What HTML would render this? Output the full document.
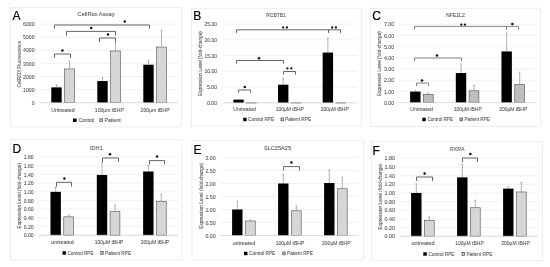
<!DOCTYPE html>
<html lang="en">
<head>
<meta charset="utf-8">
<title>Figure: oxidative stress response in RPE cells</title>
<style>
html,body{margin:0;padding:0;background:#fff;}
body{width:550px;height:267px;overflow:hidden;}
svg{display:block;font-family:'Liberation Sans', 'DejaVu Sans', sans-serif;}
.t{stroke:#595959;stroke-width:0.1px;}
</style>
</head>
<body>
<svg width="550" height="267" viewBox="0 0 550 267">
<defs><filter id="soft" x="0" y="0" width="100%" height="100%" filterUnits="userSpaceOnUse" color-interpolation-filters="sRGB"><feGaussianBlur stdDeviation="0.32"/></filter></defs>
<rect x="0" y="0" width="550" height="267" fill="#ffffff"/>
<g filter="url(#soft)">
<rect x="0" y="0" width="550" height="267" fill="#ffffff"/>
<rect x="10.4" y="7.6" width="171.20" height="119.40" fill="#fff" stroke="#e2e2e2" stroke-width="0.6"/>
<text x="12.6" y="19.7" font-size="12" fill="#000" stroke="#000" stroke-width="0.2">A</text>
<text class="t" x="96.00" y="16.20" font-size="6.2" text-anchor="middle" fill="#595959" textLength="37" lengthAdjust="spacingAndGlyphs">CellRox Assay</text>
<line x1="40" x2="178" y1="102.70" y2="102.70" stroke="#e4e4e4" stroke-width="0.55"/>
<text class="t" x="34.60" y="104.80" font-size="5.6" text-anchor="end" fill="#595959" textLength="2.9" lengthAdjust="spacingAndGlyphs">0</text>
<line x1="40" x2="178" y1="89.60" y2="89.60" stroke="#e4e4e4" stroke-width="0.55"/>
<text class="t" x="34.60" y="91.70" font-size="5.6" text-anchor="end" fill="#595959" textLength="11.6" lengthAdjust="spacingAndGlyphs">1000</text>
<line x1="40" x2="178" y1="76.50" y2="76.50" stroke="#e4e4e4" stroke-width="0.55"/>
<text class="t" x="34.60" y="78.60" font-size="5.6" text-anchor="end" fill="#595959" textLength="11.6" lengthAdjust="spacingAndGlyphs">2000</text>
<line x1="40" x2="178" y1="63.40" y2="63.40" stroke="#e4e4e4" stroke-width="0.55"/>
<text class="t" x="34.60" y="65.50" font-size="5.6" text-anchor="end" fill="#595959" textLength="11.6" lengthAdjust="spacingAndGlyphs">3000</text>
<line x1="40" x2="178" y1="50.30" y2="50.30" stroke="#e4e4e4" stroke-width="0.55"/>
<text class="t" x="34.60" y="52.40" font-size="5.6" text-anchor="end" fill="#595959" textLength="11.6" lengthAdjust="spacingAndGlyphs">4000</text>
<line x1="40" x2="178" y1="37.20" y2="37.20" stroke="#e4e4e4" stroke-width="0.55"/>
<text class="t" x="34.60" y="39.30" font-size="5.6" text-anchor="end" fill="#595959" textLength="11.6" lengthAdjust="spacingAndGlyphs">5000</text>
<line x1="40" x2="178" y1="24.10" y2="24.10" stroke="#e4e4e4" stroke-width="0.55"/>
<text class="t" x="34.60" y="26.20" font-size="5.6" text-anchor="end" fill="#595959" textLength="11.6" lengthAdjust="spacingAndGlyphs">6000</text>
<text class="t" transform="translate(19.4,64.3) rotate(-90)" x="0" y="1.9" font-size="5.6" text-anchor="middle" fill="#595959" textLength="46.5" lengthAdjust="spacingAndGlyphs">CellROX Fluorescence</text>
<rect x="51.30" y="87.37" width="10.4" height="15.33" fill="#000"/>
<path d="M56.50,87.37 V85.02 M55.70,85.02 H57.30" stroke="#707070" stroke-width="0.55" fill="none"/>
<rect x="64.60" y="68.94" width="9.8" height="33.76" fill="#d6d6d6" stroke="#505050" stroke-width="0.6"/>
<path d="M69.50,68.64 V61.04 M68.70,61.04 H70.30" stroke="#707070" stroke-width="0.55" fill="none"/>
<rect x="97.30" y="81.09" width="10.4" height="21.61" fill="#000"/>
<path d="M102.50,81.09 V77.68 M101.70,77.68 H103.30" stroke="#707070" stroke-width="0.55" fill="none"/>
<rect x="110.60" y="50.99" width="9.8" height="51.71" fill="#d6d6d6" stroke="#505050" stroke-width="0.6"/>
<path d="M115.50,50.69 V42.57 M114.70,42.57 H116.30" stroke="#707070" stroke-width="0.55" fill="none"/>
<rect x="143.30" y="64.71" width="10.4" height="37.99" fill="#000"/>
<path d="M148.50,64.71 V60.13 M147.70,60.13 H149.30" stroke="#707070" stroke-width="0.55" fill="none"/>
<rect x="156.60" y="47.06" width="9.8" height="55.64" fill="#d6d6d6" stroke="#505050" stroke-width="0.6"/>
<path d="M161.50,46.76 V30.39 M160.70,30.39 H162.30" stroke="#707070" stroke-width="0.55" fill="none"/>
<line x1="40" x2="178" y1="102.70" y2="102.70" stroke="#cfcfcf" stroke-width="0.6"/>
<text class="t" x="63.00" y="112.00" font-size="5.6" text-anchor="middle" fill="#595959" textLength="23.5" lengthAdjust="spacingAndGlyphs">Untreated</text>
<text class="t" x="109.30" y="112.00" font-size="5.6" text-anchor="middle" fill="#595959" textLength="29" lengthAdjust="spacingAndGlyphs">100µm tBHP</text>
<text class="t" x="155.10" y="112.00" font-size="5.6" text-anchor="middle" fill="#595959" textLength="29" lengthAdjust="spacingAndGlyphs">200µm tBHP</text>
<rect x="73" y="118.55" width="3.60" height="3.45" fill="#000"/>
<text class="t" x="78.40" y="121.80" font-size="5.6" text-anchor="start" fill="#595959" textLength="15.8" lengthAdjust="spacingAndGlyphs">Control</text>
<rect x="99.80" y="118.80" width="2.80" height="2.8" fill="#d6d6d6" stroke="#4a4a4a" stroke-width="0.75"/>
<text class="t" x="104.40" y="121.80" font-size="5.6" text-anchor="start" fill="#595959" textLength="16.4" lengthAdjust="spacingAndGlyphs">Patient</text>
<path d="M54.50,28.60 V25.00 H149.50 V28.60" fill="none" stroke="#404040" stroke-width="0.8" stroke-linejoin="round"/>
<path d="M66.50,35.80 V31.40 H115.50 V35.80" fill="none" stroke="#404040" stroke-width="0.8" stroke-linejoin="round"/>
<path d="M99.50,42.20 V38.00 H115.50 V42.20" fill="none" stroke="#404040" stroke-width="0.8" stroke-linejoin="round"/>
<path d="M54.50,58.00 V54.00 H70.50 V58.00" fill="none" stroke="#404040" stroke-width="0.8" stroke-linejoin="round"/>
<circle cx="124.80" cy="21.50" r="1.25" fill="#111"/>
<circle cx="91.20" cy="28.00" r="1.25" fill="#111"/>
<circle cx="108.00" cy="34.40" r="1.25" fill="#111"/>
<circle cx="62.40" cy="50.50" r="1.25" fill="#111"/>
<rect x="191.4" y="8.2" width="170.00" height="117.80" fill="#fff" stroke="#e2e2e2" stroke-width="0.6"/>
<text x="193.3" y="20.1" font-size="12" fill="#000" stroke="#000" stroke-width="0.2">B</text>
<text class="t" x="276.05" y="16.80" font-size="5.4" text-anchor="middle" fill="#595959" textLength="19.5" lengthAdjust="spacingAndGlyphs">RCBTB1</text>
<line x1="223" x2="357" y1="102.80" y2="102.80" stroke="#e4e4e4" stroke-width="0.55"/>
<text class="t" x="217.00" y="104.90" font-size="5.6" text-anchor="end" fill="#595959" textLength="10.0" lengthAdjust="spacingAndGlyphs">0.00</text>
<line x1="223" x2="357" y1="87.05" y2="87.05" stroke="#e4e4e4" stroke-width="0.55"/>
<text class="t" x="217.00" y="89.15" font-size="5.6" text-anchor="end" fill="#595959" textLength="10.0" lengthAdjust="spacingAndGlyphs">5.00</text>
<line x1="223" x2="357" y1="71.30" y2="71.30" stroke="#e4e4e4" stroke-width="0.55"/>
<text class="t" x="217.00" y="73.40" font-size="5.6" text-anchor="end" fill="#595959" textLength="12.6" lengthAdjust="spacingAndGlyphs">10.00</text>
<line x1="223" x2="357" y1="55.55" y2="55.55" stroke="#e4e4e4" stroke-width="0.55"/>
<text class="t" x="217.00" y="57.65" font-size="5.6" text-anchor="end" fill="#595959" textLength="12.6" lengthAdjust="spacingAndGlyphs">15.00</text>
<line x1="223" x2="357" y1="39.80" y2="39.80" stroke="#e4e4e4" stroke-width="0.55"/>
<text class="t" x="217.00" y="41.90" font-size="5.6" text-anchor="end" fill="#595959" textLength="12.6" lengthAdjust="spacingAndGlyphs">20.00</text>
<line x1="223" x2="357" y1="24.05" y2="24.05" stroke="#e4e4e4" stroke-width="0.55"/>
<text class="t" x="217.00" y="26.15" font-size="5.6" text-anchor="end" fill="#595959" textLength="12.6" lengthAdjust="spacingAndGlyphs">25.00</text>
<text class="t" transform="translate(200.2,63.6) rotate(-90)" x="0" y="1.9" font-size="5.6" text-anchor="middle" fill="#595959" textLength="65" lengthAdjust="spacingAndGlyphs">Expression Level (fold-change)</text>
<rect x="233.33" y="99.65" width="10.4" height="3.15" fill="#000"/>
<path d="M238.53,99.65 V99.27 M237.73,99.27 H239.33" stroke="#707070" stroke-width="0.55" fill="none"/>
<rect x="246.63" y="102.78" width="9.8" height="0.20" fill="#d6d6d6" stroke="#505050" stroke-width="0.6"/>
<path d="M251.53,102.48 V102.42 M250.73,102.42 H252.33" stroke="#707070" stroke-width="0.55" fill="none"/>
<rect x="278.00" y="84.69" width="10.4" height="18.11" fill="#000"/>
<path d="M283.20,84.69 V78.07 M282.40,78.07 H284.00" stroke="#707070" stroke-width="0.55" fill="none"/>
<rect x="291.30" y="102.78" width="9.8" height="0.20" fill="#d6d6d6" stroke="#505050" stroke-width="0.6"/>
<path d="M296.20,102.48 V102.42 M295.40,102.42 H297.00" stroke="#707070" stroke-width="0.55" fill="none"/>
<rect x="322.67" y="52.56" width="10.4" height="50.24" fill="#000"/>
<path d="M327.87,52.56 V38.07 M327.07,38.07 H328.67" stroke="#707070" stroke-width="0.55" fill="none"/>
<rect x="335.97" y="102.78" width="9.8" height="0.20" fill="#d6d6d6" stroke="#505050" stroke-width="0.6"/>
<path d="M340.87,102.48 V102.42 M340.07,102.42 H341.67" stroke="#707070" stroke-width="0.55" fill="none"/>
<line x1="223" x2="357" y1="102.80" y2="102.80" stroke="#cfcfcf" stroke-width="0.6"/>
<text class="t" x="244.60" y="111.00" font-size="5.6" text-anchor="middle" fill="#595959" textLength="22.5" lengthAdjust="spacingAndGlyphs">Untreated</text>
<text class="t" x="289.80" y="111.00" font-size="5.6" text-anchor="middle" fill="#595959" textLength="28" lengthAdjust="spacingAndGlyphs">100µM tBHP</text>
<text class="t" x="334.70" y="111.00" font-size="5.6" text-anchor="middle" fill="#595959" textLength="28" lengthAdjust="spacingAndGlyphs">200µM tBHP</text>
<rect x="243.2" y="117.75" width="3.40" height="3.45" fill="#000"/>
<text class="t" x="248.00" y="121.00" font-size="5.6" text-anchor="start" fill="#595959" textLength="26" lengthAdjust="spacingAndGlyphs">Control RPE</text>
<rect x="281.00" y="118.00" width="2.60" height="2.8" fill="#d6d6d6" stroke="#4a4a4a" stroke-width="0.75"/>
<text class="t" x="285.00" y="121.00" font-size="5.6" text-anchor="start" fill="#595959" textLength="26.2" lengthAdjust="spacingAndGlyphs">Patient RPE</text>
<path d="M236.50,33.00 V29.80 H340.50 V33.00 M328.50,29.80 V33.00" fill="none" stroke="#404040" stroke-width="0.8" stroke-linejoin="round"/>
<path d="M236.50,63.70 V60.50 H283.50 V63.70" fill="none" stroke="#404040" stroke-width="0.8" stroke-linejoin="round"/>
<path d="M283.50,74.60 V71.50 H295.50 V74.60" fill="none" stroke="#404040" stroke-width="0.8" stroke-linejoin="round"/>
<path d="M238.50,92.80 V90.00 H250.50 V92.80" fill="none" stroke="#404040" stroke-width="0.8" stroke-linejoin="round"/>
<circle cx="283.20" cy="27.50" r="1.15" fill="#111"/>
<circle cx="286.90" cy="27.50" r="1.15" fill="#111"/>
<circle cx="332.20" cy="27.50" r="1.15" fill="#111"/>
<circle cx="335.90" cy="27.50" r="1.15" fill="#111"/>
<circle cx="259.00" cy="58.30" r="1.25" fill="#111"/>
<circle cx="287.40" cy="68.40" r="1.15" fill="#111"/>
<circle cx="291.30" cy="68.40" r="1.15" fill="#111"/>
<circle cx="244.80" cy="87.00" r="1.25" fill="#111"/>
<rect x="370.2" y="8.2" width="170.20" height="118.10" fill="#fff" stroke="#e2e2e2" stroke-width="0.6"/>
<text x="372.2" y="20.1" font-size="12" fill="#000" stroke="#000" stroke-width="0.2">C</text>
<text class="t" x="455.40" y="16.80" font-size="5.2" text-anchor="middle" fill="#595959" textLength="18.8" lengthAdjust="spacingAndGlyphs">NFE2L2</text>
<line x1="399" x2="536" y1="102.60" y2="102.60" stroke="#e4e4e4" stroke-width="0.55"/>
<text class="t" x="394.20" y="104.70" font-size="5.6" text-anchor="end" fill="#595959" textLength="10.3" lengthAdjust="spacingAndGlyphs">0.00</text>
<line x1="399" x2="536" y1="91.40" y2="91.40" stroke="#e4e4e4" stroke-width="0.55"/>
<text class="t" x="394.20" y="93.50" font-size="5.6" text-anchor="end" fill="#595959" textLength="10.3" lengthAdjust="spacingAndGlyphs">1.00</text>
<line x1="399" x2="536" y1="80.20" y2="80.20" stroke="#e4e4e4" stroke-width="0.55"/>
<text class="t" x="394.20" y="82.30" font-size="5.6" text-anchor="end" fill="#595959" textLength="10.3" lengthAdjust="spacingAndGlyphs">2.00</text>
<line x1="399" x2="536" y1="69.00" y2="69.00" stroke="#e4e4e4" stroke-width="0.55"/>
<text class="t" x="394.20" y="71.10" font-size="5.6" text-anchor="end" fill="#595959" textLength="10.3" lengthAdjust="spacingAndGlyphs">3.00</text>
<line x1="399" x2="536" y1="57.80" y2="57.80" stroke="#e4e4e4" stroke-width="0.55"/>
<text class="t" x="394.20" y="59.90" font-size="5.6" text-anchor="end" fill="#595959" textLength="10.3" lengthAdjust="spacingAndGlyphs">4.00</text>
<line x1="399" x2="536" y1="46.60" y2="46.60" stroke="#e4e4e4" stroke-width="0.55"/>
<text class="t" x="394.20" y="48.70" font-size="5.6" text-anchor="end" fill="#595959" textLength="10.3" lengthAdjust="spacingAndGlyphs">5.00</text>
<line x1="399" x2="536" y1="35.40" y2="35.40" stroke="#e4e4e4" stroke-width="0.55"/>
<text class="t" x="394.20" y="37.50" font-size="5.6" text-anchor="end" fill="#595959" textLength="10.3" lengthAdjust="spacingAndGlyphs">6.00</text>
<line x1="399" x2="536" y1="24.20" y2="24.20" stroke="#e4e4e4" stroke-width="0.55"/>
<text class="t" x="394.20" y="26.30" font-size="5.6" text-anchor="end" fill="#595959" textLength="10.3" lengthAdjust="spacingAndGlyphs">7.00</text>
<text class="t" transform="translate(378.6,63.6) rotate(-90)" x="0" y="1.9" font-size="5.6" text-anchor="middle" fill="#595959" textLength="65" lengthAdjust="spacingAndGlyphs">Expression Level (fold-change)</text>
<rect x="410.13" y="91.62" width="10.4" height="10.98" fill="#000"/>
<path d="M415.33,91.62 V90.73 M414.53,90.73 H416.13" stroke="#707070" stroke-width="0.55" fill="none"/>
<rect x="423.43" y="94.28" width="9.8" height="8.32" fill="#bdbdbd" stroke="#505050" stroke-width="0.6"/>
<path d="M428.33,93.98 V93.19 M427.53,93.19 H429.13" stroke="#707070" stroke-width="0.55" fill="none"/>
<rect x="455.80" y="73.03" width="10.4" height="29.57" fill="#000"/>
<path d="M461.00,73.03 V64.07 M460.20,64.07 H461.80" stroke="#707070" stroke-width="0.55" fill="none"/>
<rect x="469.10" y="90.80" width="9.8" height="11.80" fill="#bdbdbd" stroke="#505050" stroke-width="0.6"/>
<path d="M474.00,90.50 V85.46 M473.20,85.46 H474.80" stroke="#707070" stroke-width="0.55" fill="none"/>
<rect x="501.47" y="51.42" width="10.4" height="51.18" fill="#000"/>
<path d="M506.67,51.42 V32.94 M505.87,32.94 H507.47" stroke="#707070" stroke-width="0.55" fill="none"/>
<rect x="514.77" y="84.31" width="9.8" height="18.29" fill="#bdbdbd" stroke="#505050" stroke-width="0.6"/>
<path d="M519.67,84.01 V72.02 M518.87,72.02 H520.47" stroke="#707070" stroke-width="0.55" fill="none"/>
<line x1="399" x2="536" y1="102.60" y2="102.60" stroke="#cfcfcf" stroke-width="0.6"/>
<text class="t" x="421.60" y="111.20" font-size="5.6" text-anchor="middle" fill="#595959" textLength="22.5" lengthAdjust="spacingAndGlyphs">Untreated</text>
<text class="t" x="467.70" y="111.20" font-size="5.6" text-anchor="middle" fill="#595959" textLength="28" lengthAdjust="spacingAndGlyphs">100µM tBHP</text>
<text class="t" x="513.20" y="111.20" font-size="5.6" text-anchor="middle" fill="#595959" textLength="28" lengthAdjust="spacingAndGlyphs">200µM tBHP</text>
<rect x="422.3" y="117.75" width="3.40" height="3.45" fill="#000"/>
<text class="t" x="427.40" y="121.00" font-size="5.6" text-anchor="start" fill="#595959" textLength="25.6" lengthAdjust="spacingAndGlyphs">Control RPE</text>
<rect x="460.00" y="118.00" width="2.60" height="2.8" fill="#bdbdbd" stroke="#4a4a4a" stroke-width="0.75"/>
<text class="t" x="464.40" y="121.00" font-size="5.6" text-anchor="start" fill="#595959" textLength="25.6" lengthAdjust="spacingAndGlyphs">Patient RPE</text>
<path d="M414.50,29.80 V26.40 H518.50 V29.80 M506.50,26.40 V29.80" fill="none" stroke="#666" stroke-width="0.8" stroke-linejoin="round"/>
<path d="M414.50,61.20 V58.00 H461.50 V61.20" fill="none" stroke="#666" stroke-width="0.8" stroke-linejoin="round"/>
<path d="M416.50,86.00 V83.00 H428.50 V86.00" fill="none" stroke="#666" stroke-width="0.8" stroke-linejoin="round"/>
<circle cx="461.30" cy="24.70" r="1.15" fill="#111"/>
<circle cx="464.90" cy="24.70" r="1.15" fill="#111"/>
<circle cx="512.40" cy="24.00" r="1.25" fill="#111"/>
<circle cx="437.00" cy="55.60" r="1.25" fill="#111"/>
<circle cx="422.00" cy="80.60" r="1.25" fill="#111"/>
<rect x="10.4" y="139.6" width="171.60" height="120.40" fill="#fff" stroke="#e2e2e2" stroke-width="0.6"/>
<text x="12.5" y="153.4" font-size="12" fill="#000" stroke="#000" stroke-width="0.2">D</text>
<text class="t" x="96.40" y="149.70" font-size="5.9" text-anchor="middle" fill="#595959" textLength="12.8" lengthAdjust="spacingAndGlyphs">IDH1</text>
<line x1="37.8" x2="178" y1="235.20" y2="235.20" stroke="#e4e4e4" stroke-width="0.55"/>
<text class="t" x="33.70" y="237.30" font-size="5.6" text-anchor="end" fill="#595959" textLength="10.0" lengthAdjust="spacingAndGlyphs">0.00</text>
<line x1="37.8" x2="178" y1="226.53" y2="226.53" stroke="#e4e4e4" stroke-width="0.55"/>
<text class="t" x="33.70" y="228.63" font-size="5.6" text-anchor="end" fill="#595959" textLength="10.0" lengthAdjust="spacingAndGlyphs">0.20</text>
<line x1="37.8" x2="178" y1="217.86" y2="217.86" stroke="#e4e4e4" stroke-width="0.55"/>
<text class="t" x="33.70" y="219.96" font-size="5.6" text-anchor="end" fill="#595959" textLength="10.0" lengthAdjust="spacingAndGlyphs">0.40</text>
<line x1="37.8" x2="178" y1="209.19" y2="209.19" stroke="#e4e4e4" stroke-width="0.55"/>
<text class="t" x="33.70" y="211.29" font-size="5.6" text-anchor="end" fill="#595959" textLength="10.0" lengthAdjust="spacingAndGlyphs">0.60</text>
<line x1="37.8" x2="178" y1="200.52" y2="200.52" stroke="#e4e4e4" stroke-width="0.55"/>
<text class="t" x="33.70" y="202.62" font-size="5.6" text-anchor="end" fill="#595959" textLength="10.0" lengthAdjust="spacingAndGlyphs">0.80</text>
<line x1="37.8" x2="178" y1="191.85" y2="191.85" stroke="#e4e4e4" stroke-width="0.55"/>
<text class="t" x="33.70" y="193.95" font-size="5.6" text-anchor="end" fill="#595959" textLength="10.0" lengthAdjust="spacingAndGlyphs">1.00</text>
<line x1="37.8" x2="178" y1="183.18" y2="183.18" stroke="#e4e4e4" stroke-width="0.55"/>
<text class="t" x="33.70" y="185.28" font-size="5.6" text-anchor="end" fill="#595959" textLength="10.0" lengthAdjust="spacingAndGlyphs">1.20</text>
<line x1="37.8" x2="178" y1="174.51" y2="174.51" stroke="#e4e4e4" stroke-width="0.55"/>
<text class="t" x="33.70" y="176.61" font-size="5.6" text-anchor="end" fill="#595959" textLength="10.0" lengthAdjust="spacingAndGlyphs">1.40</text>
<line x1="37.8" x2="178" y1="165.84" y2="165.84" stroke="#e4e4e4" stroke-width="0.55"/>
<text class="t" x="33.70" y="167.94" font-size="5.6" text-anchor="end" fill="#595959" textLength="10.0" lengthAdjust="spacingAndGlyphs">1.60</text>
<line x1="37.8" x2="178" y1="157.17" y2="157.17" stroke="#e4e4e4" stroke-width="0.55"/>
<text class="t" x="33.70" y="159.27" font-size="5.6" text-anchor="end" fill="#595959" textLength="10.0" lengthAdjust="spacingAndGlyphs">1.80</text>
<text class="t" transform="translate(19.3,195.7) rotate(-90)" x="0" y="1.9" font-size="5.6" text-anchor="middle" fill="#595959" textLength="65.6" lengthAdjust="spacingAndGlyphs">Expression Level (fold-change)</text>
<rect x="50.47" y="191.85" width="10.4" height="43.35" fill="#000"/>
<path d="M55.67,191.85 V187.08 M54.87,187.08 H56.47" stroke="#707070" stroke-width="0.55" fill="none"/>
<rect x="63.77" y="216.86" width="9.8" height="18.34" fill="#d6d6d6" stroke="#505050" stroke-width="0.6"/>
<path d="M68.67,216.56 V214.83 M67.87,214.83 H69.47" stroke="#707070" stroke-width="0.55" fill="none"/>
<rect x="96.80" y="174.94" width="10.4" height="60.26" fill="#000"/>
<path d="M102.00,174.94 V162.37 M101.20,162.37 H102.80" stroke="#707070" stroke-width="0.55" fill="none"/>
<rect x="110.10" y="211.66" width="9.8" height="23.54" fill="#d6d6d6" stroke="#505050" stroke-width="0.6"/>
<path d="M115.00,211.36 V204.85 M114.20,204.85 H115.80" stroke="#707070" stroke-width="0.55" fill="none"/>
<rect x="143.13" y="171.48" width="10.4" height="63.72" fill="#000"/>
<path d="M148.33,171.48 V165.41 M147.53,165.41 H149.13" stroke="#707070" stroke-width="0.55" fill="none"/>
<rect x="156.43" y="201.25" width="9.8" height="33.95" fill="#d6d6d6" stroke="#505050" stroke-width="0.6"/>
<path d="M161.33,200.95 V194.45 M160.53,194.45 H162.13" stroke="#707070" stroke-width="0.55" fill="none"/>
<line x1="39" x2="178" y1="235.20" y2="235.20" stroke="#cfcfcf" stroke-width="0.6"/>
<text class="t" x="62.50" y="244.30" font-size="5.6" text-anchor="middle" fill="#595959" textLength="22.5" lengthAdjust="spacingAndGlyphs">untreated</text>
<text class="t" x="108.90" y="244.30" font-size="5.6" text-anchor="middle" fill="#595959" textLength="28.5" lengthAdjust="spacingAndGlyphs">100µM tBHP</text>
<text class="t" x="154.90" y="244.30" font-size="5.6" text-anchor="middle" fill="#595959" textLength="28.5" lengthAdjust="spacingAndGlyphs">200µM tBHP</text>
<rect x="62.5" y="251.25" width="3.40" height="3.45" fill="#000"/>
<text class="t" x="67.60" y="254.50" font-size="5.6" text-anchor="start" fill="#595959" textLength="26.0" lengthAdjust="spacingAndGlyphs">Control RPE</text>
<rect x="100.80" y="251.50" width="2.40" height="2.8" fill="#d6d6d6" stroke="#4a4a4a" stroke-width="0.75"/>
<text class="t" x="105.00" y="254.50" font-size="5.6" text-anchor="start" fill="#595959" textLength="26.2" lengthAdjust="spacingAndGlyphs">Patient RPE</text>
<path d="M56.50,186.60 V182.30 H71.50 V186.60" fill="none" stroke="#404040" stroke-width="0.8" stroke-linejoin="round"/>
<path d="M102.50,162.00 V158.00 H118.50 V162.00" fill="none" stroke="#404040" stroke-width="0.8" stroke-linejoin="round"/>
<path d="M149.50,164.40 V160.60 H164.50 V164.40" fill="none" stroke="#404040" stroke-width="0.8" stroke-linejoin="round"/>
<circle cx="64.40" cy="178.50" r="1.25" fill="#111"/>
<circle cx="110.00" cy="154.30" r="1.25" fill="#111"/>
<circle cx="157.00" cy="156.60" r="1.25" fill="#111"/>
<rect x="192.0" y="140.3" width="171.40" height="119.70" fill="#fff" stroke="#e2e2e2" stroke-width="0.6"/>
<text x="193.4" y="153.7" font-size="12" fill="#000" stroke="#000" stroke-width="0.2">E</text>
<text class="t" x="277.50" y="150.20" font-size="6.1" text-anchor="middle" fill="#595959" textLength="27" lengthAdjust="spacingAndGlyphs">SLC25A25</text>
<line x1="220.6" x2="358.6" y1="235.50" y2="235.50" stroke="#e4e4e4" stroke-width="0.55"/>
<text class="t" x="215.60" y="237.60" font-size="5.6" text-anchor="end" fill="#595959" textLength="10.2" lengthAdjust="spacingAndGlyphs">0.00</text>
<line x1="220.6" x2="358.6" y1="222.50" y2="222.50" stroke="#e4e4e4" stroke-width="0.55"/>
<text class="t" x="215.60" y="224.60" font-size="5.6" text-anchor="end" fill="#595959" textLength="10.2" lengthAdjust="spacingAndGlyphs">0.50</text>
<line x1="220.6" x2="358.6" y1="209.50" y2="209.50" stroke="#e4e4e4" stroke-width="0.55"/>
<text class="t" x="215.60" y="211.60" font-size="5.6" text-anchor="end" fill="#595959" textLength="10.2" lengthAdjust="spacingAndGlyphs">1.00</text>
<line x1="220.6" x2="358.6" y1="196.50" y2="196.50" stroke="#e4e4e4" stroke-width="0.55"/>
<text class="t" x="215.60" y="198.60" font-size="5.6" text-anchor="end" fill="#595959" textLength="10.2" lengthAdjust="spacingAndGlyphs">1.50</text>
<line x1="220.6" x2="358.6" y1="183.50" y2="183.50" stroke="#e4e4e4" stroke-width="0.55"/>
<text class="t" x="215.60" y="185.60" font-size="5.6" text-anchor="end" fill="#595959" textLength="10.2" lengthAdjust="spacingAndGlyphs">2.00</text>
<line x1="220.6" x2="358.6" y1="170.50" y2="170.50" stroke="#e4e4e4" stroke-width="0.55"/>
<text class="t" x="215.60" y="172.60" font-size="5.6" text-anchor="end" fill="#595959" textLength="10.2" lengthAdjust="spacingAndGlyphs">2.50</text>
<line x1="220.6" x2="358.6" y1="157.50" y2="157.50" stroke="#e4e4e4" stroke-width="0.55"/>
<text class="t" x="215.60" y="159.60" font-size="5.6" text-anchor="end" fill="#595959" textLength="10.2" lengthAdjust="spacingAndGlyphs">3.00</text>
<text class="t" transform="translate(200.9,195.8) rotate(-90)" x="0" y="1.9" font-size="5.6" text-anchor="middle" fill="#595959" textLength="66" lengthAdjust="spacingAndGlyphs">Expression Level (fold-change)</text>
<rect x="232.10" y="209.50" width="10.4" height="26.00" fill="#000"/>
<path d="M237.30,209.50 V201.18 M236.50,201.18 H238.10" stroke="#707070" stroke-width="0.55" fill="none"/>
<rect x="245.40" y="220.98" width="9.8" height="14.52" fill="#d6d6d6" stroke="#505050" stroke-width="0.6"/>
<path d="M250.30,220.68 V219.90 M249.50,219.90 H251.10" stroke="#707070" stroke-width="0.55" fill="none"/>
<rect x="278.10" y="183.50" width="10.4" height="52.00" fill="#000"/>
<path d="M283.30,183.50 V174.14 M282.50,174.14 H284.10" stroke="#707070" stroke-width="0.55" fill="none"/>
<rect x="291.40" y="210.84" width="9.8" height="24.66" fill="#d6d6d6" stroke="#505050" stroke-width="0.6"/>
<path d="M296.30,210.54 V205.86 M295.50,205.86 H297.10" stroke="#707070" stroke-width="0.55" fill="none"/>
<rect x="324.10" y="182.98" width="10.4" height="52.52" fill="#000"/>
<path d="M329.30,182.98 V169.98 M328.50,169.98 H330.10" stroke="#707070" stroke-width="0.55" fill="none"/>
<rect x="337.40" y="188.74" width="9.8" height="46.76" fill="#d6d6d6" stroke="#505050" stroke-width="0.6"/>
<path d="M342.30,188.44 V177.26 M341.50,177.26 H343.10" stroke="#707070" stroke-width="0.55" fill="none"/>
<line x1="220.6" x2="358.6" y1="235.50" y2="235.50" stroke="#cfcfcf" stroke-width="0.6"/>
<text class="t" x="243.90" y="244.70" font-size="5.6" text-anchor="middle" fill="#595959" textLength="22.5" lengthAdjust="spacingAndGlyphs">untreated</text>
<text class="t" x="290.00" y="244.70" font-size="5.6" text-anchor="middle" fill="#595959" textLength="28.5" lengthAdjust="spacingAndGlyphs">100µM tBHP</text>
<text class="t" x="336.30" y="244.70" font-size="5.6" text-anchor="middle" fill="#595959" textLength="28.5" lengthAdjust="spacingAndGlyphs">200µM tBHP</text>
<rect x="244" y="251.75" width="3.50" height="3.45" fill="#000"/>
<text class="t" x="249.00" y="255.00" font-size="5.6" text-anchor="start" fill="#595959" textLength="26.2" lengthAdjust="spacingAndGlyphs">Control RPE</text>
<rect x="282.80" y="252.00" width="2.40" height="2.8" fill="#d6d6d6" stroke="#4a4a4a" stroke-width="0.75"/>
<text class="t" x="287.00" y="255.00" font-size="5.6" text-anchor="start" fill="#595959" textLength="26" lengthAdjust="spacingAndGlyphs">Patient RPE</text>
<path d="M283.50,170.60 V166.60 H299.50 V170.60" fill="none" stroke="#404040" stroke-width="0.8" stroke-linejoin="round"/>
<circle cx="291.40" cy="162.50" r="1.25" fill="#111"/>
<rect x="371.4" y="141.2" width="171.20" height="119.40" fill="#fff" stroke="#e2e2e2" stroke-width="0.6"/>
<text x="372.6" y="154.7" font-size="12" fill="#000" stroke="#000" stroke-width="0.2">F</text>
<text class="t" x="457.25" y="150.70" font-size="5.9" text-anchor="middle" fill="#595959" textLength="14.5" lengthAdjust="spacingAndGlyphs">RXRA</text>
<line x1="400" x2="538" y1="236.20" y2="236.20" stroke="#e4e4e4" stroke-width="0.55"/>
<text class="t" x="395.00" y="238.30" font-size="5.6" text-anchor="end" fill="#595959" textLength="10.4" lengthAdjust="spacingAndGlyphs">0.00</text>
<line x1="400" x2="538" y1="227.55" y2="227.55" stroke="#e4e4e4" stroke-width="0.55"/>
<text class="t" x="395.00" y="229.65" font-size="5.6" text-anchor="end" fill="#595959" textLength="10.4" lengthAdjust="spacingAndGlyphs">0.20</text>
<line x1="400" x2="538" y1="218.90" y2="218.90" stroke="#e4e4e4" stroke-width="0.55"/>
<text class="t" x="395.00" y="221.00" font-size="5.6" text-anchor="end" fill="#595959" textLength="10.4" lengthAdjust="spacingAndGlyphs">0.40</text>
<line x1="400" x2="538" y1="210.25" y2="210.25" stroke="#e4e4e4" stroke-width="0.55"/>
<text class="t" x="395.00" y="212.35" font-size="5.6" text-anchor="end" fill="#595959" textLength="10.4" lengthAdjust="spacingAndGlyphs">0.60</text>
<line x1="400" x2="538" y1="201.60" y2="201.60" stroke="#e4e4e4" stroke-width="0.55"/>
<text class="t" x="395.00" y="203.70" font-size="5.6" text-anchor="end" fill="#595959" textLength="10.4" lengthAdjust="spacingAndGlyphs">0.80</text>
<line x1="400" x2="538" y1="192.95" y2="192.95" stroke="#e4e4e4" stroke-width="0.55"/>
<text class="t" x="395.00" y="195.05" font-size="5.6" text-anchor="end" fill="#595959" textLength="10.4" lengthAdjust="spacingAndGlyphs">1.00</text>
<line x1="400" x2="538" y1="184.30" y2="184.30" stroke="#e4e4e4" stroke-width="0.55"/>
<text class="t" x="395.00" y="186.40" font-size="5.6" text-anchor="end" fill="#595959" textLength="10.4" lengthAdjust="spacingAndGlyphs">1.20</text>
<line x1="400" x2="538" y1="175.65" y2="175.65" stroke="#e4e4e4" stroke-width="0.55"/>
<text class="t" x="395.00" y="177.75" font-size="5.6" text-anchor="end" fill="#595959" textLength="10.4" lengthAdjust="spacingAndGlyphs">1.40</text>
<line x1="400" x2="538" y1="167.00" y2="167.00" stroke="#e4e4e4" stroke-width="0.55"/>
<text class="t" x="395.00" y="169.10" font-size="5.6" text-anchor="end" fill="#595959" textLength="10.4" lengthAdjust="spacingAndGlyphs">1.60</text>
<line x1="400" x2="538" y1="158.35" y2="158.35" stroke="#e4e4e4" stroke-width="0.55"/>
<text class="t" x="395.00" y="160.45" font-size="5.6" text-anchor="end" fill="#595959" textLength="10.4" lengthAdjust="spacingAndGlyphs">1.80</text>
<text class="t" transform="translate(379.9,196.5) rotate(-90)" x="0" y="1.9" font-size="5.6" text-anchor="middle" fill="#595959" textLength="66" lengthAdjust="spacingAndGlyphs">Expression Level (fold-change)</text>
<rect x="411.10" y="192.95" width="10.4" height="43.25" fill="#000"/>
<path d="M416.30,192.95 V183.87 M415.50,183.87 H417.10" stroke="#707070" stroke-width="0.55" fill="none"/>
<rect x="424.40" y="220.28" width="9.8" height="15.92" fill="#d6d6d6" stroke="#505050" stroke-width="0.6"/>
<path d="M429.30,219.98 V216.95 M428.50,216.95 H430.10" stroke="#707070" stroke-width="0.55" fill="none"/>
<rect x="457.10" y="177.38" width="10.4" height="58.82" fill="#000"/>
<path d="M462.30,177.38 V163.97 M461.50,163.97 H463.10" stroke="#707070" stroke-width="0.55" fill="none"/>
<rect x="470.40" y="207.74" width="9.8" height="28.46" fill="#d6d6d6" stroke="#505050" stroke-width="0.6"/>
<path d="M475.30,207.44 V200.09 M474.50,200.09 H476.10" stroke="#707070" stroke-width="0.55" fill="none"/>
<rect x="503.10" y="188.62" width="10.4" height="47.58" fill="#000"/>
<path d="M508.30,188.62 V186.89 M507.50,186.89 H509.10" stroke="#707070" stroke-width="0.55" fill="none"/>
<rect x="516.40" y="191.95" width="9.8" height="44.25" fill="#d6d6d6" stroke="#505050" stroke-width="0.6"/>
<path d="M521.30,191.65 V182.57 M520.50,182.57 H522.10" stroke="#707070" stroke-width="0.55" fill="none"/>
<line x1="400" x2="538" y1="236.20" y2="236.20" stroke="#cfcfcf" stroke-width="0.6"/>
<text class="t" x="423.00" y="245.20" font-size="5.6" text-anchor="middle" fill="#595959" textLength="23" lengthAdjust="spacingAndGlyphs">untreated</text>
<text class="t" x="469.50" y="245.20" font-size="5.6" text-anchor="middle" fill="#595959" textLength="28.5" lengthAdjust="spacingAndGlyphs">100µM tBHP</text>
<text class="t" x="515.50" y="245.20" font-size="5.6" text-anchor="middle" fill="#595959" textLength="28.5" lengthAdjust="spacingAndGlyphs">200µM tBHP</text>
<rect x="423.3" y="252.25" width="3.50" height="3.45" fill="#000"/>
<text class="t" x="428.60" y="255.50" font-size="5.6" text-anchor="start" fill="#595959" textLength="25.8" lengthAdjust="spacingAndGlyphs">Control RPE</text>
<rect x="462.00" y="252.50" width="2.40" height="2.8" fill="#d6d6d6" stroke="#4a4a4a" stroke-width="0.75"/>
<text class="t" x="466.40" y="255.50" font-size="5.6" text-anchor="start" fill="#595959" textLength="26.0" lengthAdjust="spacingAndGlyphs">Patient RPE</text>
<path d="M416.50,181.00 V177.00 H432.50 V181.00" fill="none" stroke="#404040" stroke-width="0.8" stroke-linejoin="round"/>
<path d="M462.50,162.00 V158.00 H477.50 V162.00" fill="none" stroke="#404040" stroke-width="0.8" stroke-linejoin="round"/>
<circle cx="424.60" cy="173.40" r="1.25" fill="#111"/>
<circle cx="470.40" cy="154.00" r="1.25" fill="#111"/>
</g>
</svg>
</body>
</html>
